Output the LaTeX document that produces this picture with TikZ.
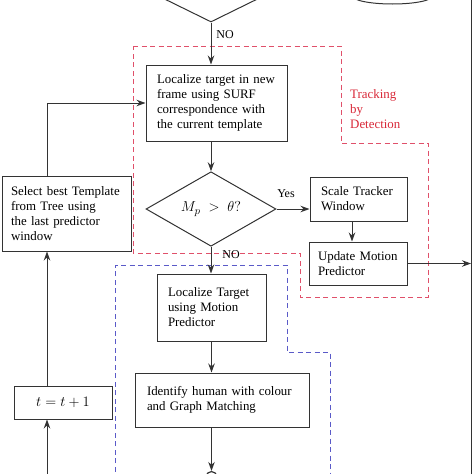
\documentclass[tikz,border=0pt]{standalone}
\usepackage{fontspec}
\setmainfont{Liberation Serif}
\usetikzlibrary{arrows.meta,shapes.geometric,calc}
\definecolor{lc}{HTML}{333333}
\definecolor{rd}{HTML}{E0506A}
\definecolor{rdt}{HTML}{D82838}
\definecolor{bl}{HTML}{5A5AC8}
\hyphenpenalty=10000
\exhyphenpenalty=10000
\begin{document}
\begin{tikzpicture}[x=1pt,y=-1pt,
 every node/.style={font=\fontsize{12.9}{15}\selectfont},
 box/.style={draw=lc, line width=1pt, align=left, inner ysep=0pt, anchor=center},
 flow/.style={draw=lc, line width=1pt, -{Stealth[length=9pt,width=6.5pt]}},
 plain/.style={draw=lc, line width=1pt},
 dec/.style={draw=lc, line width=1pt, shape=diamond, minimum width=130pt, minimum height=64pt, inner sep=0pt},
 lbl/.style={font=\fontsize{12}{14}\selectfont, text=black, inner sep=0pt},
 reddash/.style={draw=rd, line width=1pt, dash pattern=on 5pt off 3.5pt},
 bluedash/.style={draw=bl, line width=1pt, dash pattern=on 5pt off 3.5pt}
]
\useasboundingbox (0,0) rectangle (474,474);
\clip (0,0) rectangle (474,474);

% grouping regions
\draw[reddash] (133,46) -- (341,46) -- (341,143) -- (428,143) -- (428,297) -- (300,297) -- (300,253) -- (133,253) -- cycle;
\draw[bluedash] (115,480) -- (115,265) -- (287,265) -- (287,352) -- (330,352) -- (330,480);
\node[text=rdt, align=left, anchor=west, inner sep=0pt] (trk) at (350,109) {Tracking\\by\\Detection};

% nodes
\node[dec] (td) at (211,-10) {};
\draw[plain] (392.5,-4) ellipse [x radius=40, y radius=8];
\node[box, text width=119pt, inner xsep=11pt, minimum height=76pt] (b1) at (216.5,103) {Localize target in new\\frame using SURF\\correspondence with\\the current template};
\node[dec] (dm) at (211,209) {\fontsize{15}{17}\selectfont $M_p\;>\;\theta?$};
\node[box, text width=75pt, inner xsep=11pt, minimum height=44pt] (sc) at (358.5,199) {Scale Tracker\\Window};
\node[box, text width=80pt, inner xsep=9pt, minimum height=43pt] (up) at (358,263.5) {Update Motion\\Predictor};
\node[box, text width=111pt, inner xsep=9pt, minimum height=75pt] (sel) at (66.5,213.5) {Select best Template\\from Tree using\\the last predictor\\window};
\node[box, text width=87pt, inner xsep=11pt, minimum height=67pt] (lm) at (211.5,307.5) {Localize Target\\using Motion\\Predictor};
\node[box, text width=150pt, inner xsep=12pt, minimum height=54pt] (id) at (222,400) {Identify human with colour\\and Graph Matching};
\node[box, minimum width=98pt, minimum height=33pt, align=center] (tt) at (63,402.5) {\fontsize{15}{17}\selectfont $t=t+1$};
\node[draw=lc, line width=1.2pt, circle, minimum size=11pt, inner sep=0pt] (endc) at (211.5,477) {};

\coordinate (rt) at (471,-5);
\coordinate (rb) at (471,480);
\coordinate (lb) at (47,480);

% connectors
\draw[flow] (td.south) -- (b1.north -| td.south);
\node[lbl] at (225,35) {NO};
\draw[flow] (b1.south -| dm.north) -- (dm.north);
\draw[flow] (dm.east) -- (dm.east -| sc.west);
\node[lbl] at (286,194) {Yes};
\draw[flow] ([xshift=-6.5pt]sc.south) -- ([xshift=-6.5pt]sc.south |- up.north);
\draw[plain] (rt) -- (rb);
\draw[flow] (up.east) -- (up.east -| rt);
\draw[flow] (dm.south) -- (dm.south |- lm.north);
\node[lbl] at (231,255) {NO};
\draw[flow] (lm.south) -- (lm.south |- id.north);
\draw[flow] (id.south -| endc.north) -- (endc.north);
\draw[flow] (lb) -- (lb |- tt.south);
\draw[flow] (tt.north -| lb) -- (lb |- sel.south);
\draw[flow] (sel.north -| lb) |- (b1.west);
\end{tikzpicture}
\end{document}
